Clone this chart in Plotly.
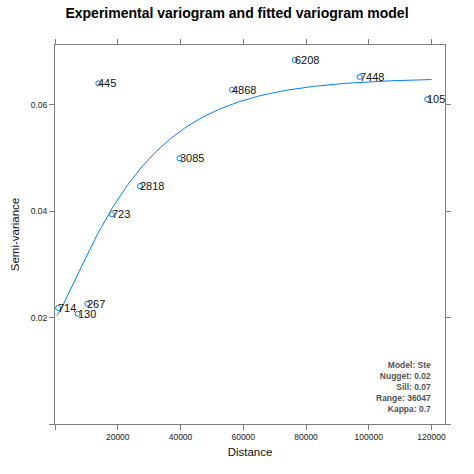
import numpy as np
import plotly.graph_objects as go
from math import gamma as G

# Experimental variogram
dist = [1000, 7200, 10300, 13800, 18100, 27100, 39700, 56400, 76400, 97100, 118600]
semivar = [0.0218, 0.0207, 0.0226, 0.0640, 0.0394, 0.0447, 0.0499, 0.0628, 0.0684, 0.0652, 0.0610]
npairs = ["714", "130", "267", "445", "723", "2818", "3085", "4868", "6208", "7448", "105"]

# Fitted model parameters (Stein's Matern)
nugget = 0.02
psill = 0.045
rng = 36047
kappa = 0.7

x_ticks = [0, 20000, 40000, 60000, 80000, 100000, 120000]
x_labels = ["", "20000", "40000", "60000", "80000", "100000", "120000"]
y_ticks = [0, 0.02, 0.04, 0.06]
y_labels = ["", "0.02", "0.04", "0.06"]

FONT = "Liberation Sans, Arial, sans-serif"


def bessel_k(nu, x):
    t = np.linspace(0, 15, 6000)
    f = np.exp(-x * np.cosh(t)) * np.cosh(nu * t)
    return np.trapezoid(f, t)


def stein_gamma(h):
    if h <= 0:
        return nugget
    u = 2 * np.sqrt(kappa) * h / rng
    rho = 2 ** (1 - kappa) / G(kappa) * u ** kappa * bessel_k(kappa, u)
    return nugget + psill * (1 - rho)


hh = np.linspace(600, 120000, 300)
gg = [stein_gamma(h) for h in hh]

blue = "#0080ff"
fig = go.Figure()
fig.add_trace(go.Scatter(x=hh, y=gg, mode="lines",
                         line=dict(color=blue, width=1), hoverinfo="skip"))
fig.add_trace(go.Scatter(x=dist, y=semivar, mode="markers",
                         marker=dict(symbol="circle-open", size=5, color=blue,
                                     line=dict(width=1, color=blue))))

for d, s, n in zip(dist, semivar, npairs):
    fig.add_annotation(x=d, y=s, xref="x", yref="y", text=n, showarrow=False,
                       xanchor="left", yanchor="middle", xshift=-2,
                       font=dict(size=11, color="#111111", family=FONT))

model_txt = ("<b>Model: Ste<br>Nugget: 0.02<br>Sill: 0.07<br>Range: 36047<br>Kappa: 0.7</b>")
fig.add_annotation(xref="paper", yref="paper", x=0.968, y=0.022,
                   xanchor="right", yanchor="bottom", align="right",
                   text=model_txt, showarrow=False,
                   font=dict(size=8.5, color="#555555", family=FONT))

axis_common = dict(showline=True, linecolor="#7f7f7f", linewidth=1, mirror="ticks",
                   ticks="outside", ticklen=5, tickcolor="#7f7f7f", tickwidth=1,
                   showgrid=False, zeroline=False,
                   tickfont=dict(size=8.5, color="#222222", family=FONT))

fig.update_layout(
    width=474, height=474,
    margin=dict(l=55, r=29, t=45, b=50),
    paper_bgcolor="white", plot_bgcolor="white",
    showlegend=False,
    title=dict(text="<b>Experimental variogram and fitted variogram model</b>",
               x=0.5, xanchor="center", y=0.973, yanchor="middle",
               font=dict(size=14, color="black", family=FONT)),
    xaxis=dict(range=[0, 124300], tickvals=x_ticks, ticktext=x_labels,
               title=dict(text="Distance", standoff=6,
                          font=dict(size=11.5, color="#111111", family=FONT)),
               **axis_common),
    yaxis=dict(range=[0, 0.0712], tickvals=y_ticks, ticktext=y_labels,
               title=dict(text="Semi-variance", standoff=8,
                          font=dict(size=11.5, color="#111111", family=FONT)),
               **axis_common),
)

fig.write_html("out.html")
